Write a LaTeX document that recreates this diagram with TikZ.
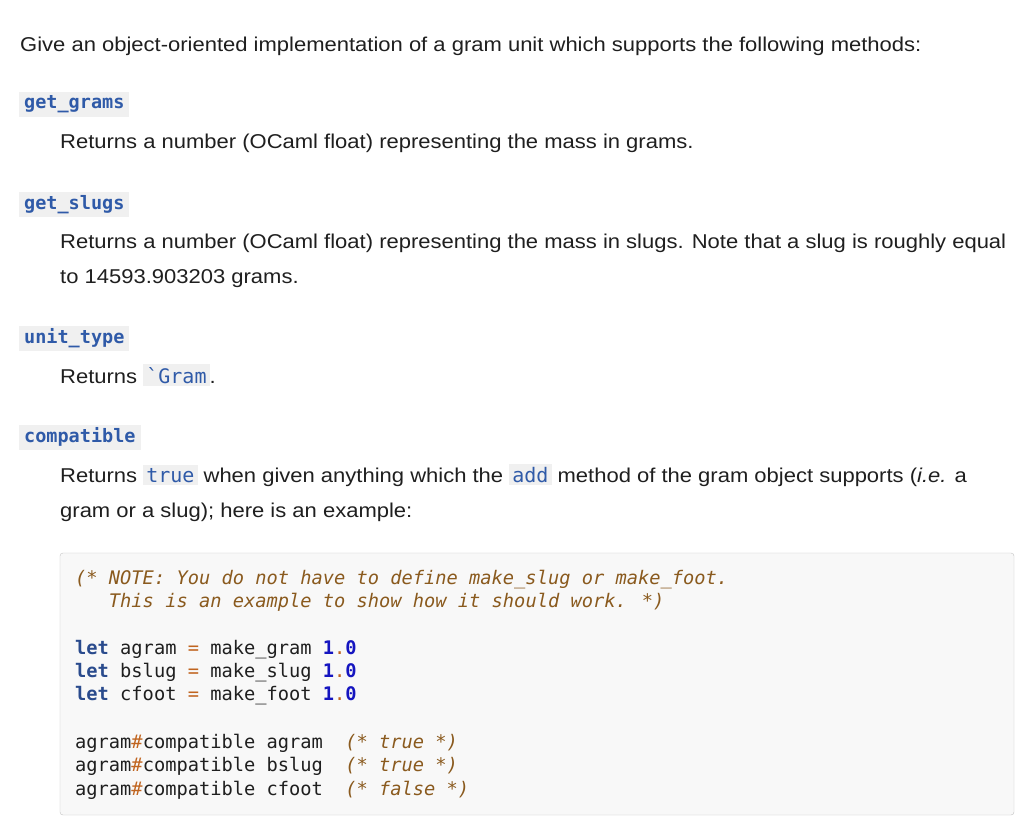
\documentclass[tikz,border=0pt]{standalone}
\usepackage{fontspec}
\setmainfont{Liberation Sans}[FakeStretch=1.1]
\newfontfamily\cmono{DejaVu Sans Mono}
\definecolor{txt}{HTML}{1F1F1F}
\definecolor{kw}{HTML}{2A4B8D}
\definecolor{icode}{HTML}{2F5AA8}
\definecolor{cbg}{HTML}{F0F0F0}
\definecolor{cmt}{HTML}{8A5A1E}
\definecolor{op}{HTML}{C0641F}
\definecolor{num}{HTML}{1515C0}
\definecolor{boxbg}{HTML}{F8F8F8}
\definecolor{boxln}{HTML}{C4C4C4}
\newcommand\ic[1]{{\setlength{\fboxsep}{3pt}\colorbox{cbg}{\cmono\color{icode}#1}}}
\newcommand\onezero{{\bfseries\color{num}1}{\color{op}.}{\bfseries\color{num}0}}
\tikzset{
  body/.style={anchor=base west,inner sep=0pt,font=\fontsize{20}{24}\selectfont,text=txt},
  head/.style={anchor=base west,inner xsep=5pt,inner ysep=0pt,fill=cbg,text=icode,
    font=\cmono\bfseries\fontsize{18.5}{22}\selectfont,text height=17pt,text depth=8pt},
  code/.style={anchor=base west,inner sep=0pt,font=\cmono\fontsize{18.7}{22}\selectfont,text=txt},
}
\begin{document}
\begin{tikzpicture}[x=1pt,y=-1pt]
\useasboundingbox[fill=white] (0,0) rectangle (1024,832);
\node[body] (t0) at (20,52) {Give an object-oriented implementation of a gram unit which supports the following methods:};
\node[head] (h1) at (19,109) {get\_grams};
\node[body] (t1) at (60,148) {Returns a number (OCaml float) representing the mass in grams.};
\node[head] (h2) at (19,209) {get\_slugs};
\node[body] (t2) at (60,248) {Returns a number (OCaml float) representing the mass in slugs. Note that a slug is roughly equal};
\node[body] (t3) at (60,283) {to 14593.903203 grams.};
\node[head] (h3) at (19,343) {unit\_type};
\node[body] (t4) at (60,383) {Returns \ic{`Gram}.};
\node[head] (h4) at (19,442) {compatible};
\node[body] (t5) at (60,482) {Returns \ic{true} when given anything which the \ic{add} method of the gram object supports (\textit{i.e.} a};
\node[body] (t6) at (60,517) {gram or a slug); here is an example:};
\draw[boxln,fill=boxbg,rounded corners=3pt] (60,553) rectangle (1014,815);
\node[code,text=cmt] (c1) at (75,584) {\itshape (* NOTE: You do not have to define make\_slug or make\_foot.};
\node[code,text=cmt] (c2) at (75,607) {\itshape \ \ \ This is an example to show how it should work. *)};
\node[code] (c3) at (75,654) {{\bfseries\color{kw}let} agram {\color{op}=} make\_gram \onezero};
\node[code] (c4) at (75,677) {{\bfseries\color{kw}let} bslug {\color{op}=} make\_slug \onezero};
\node[code] (c5) at (75,700) {{\bfseries\color{kw}let} cfoot {\color{op}=} make\_foot \onezero};
\node[code] (c6) at (75,748) {agram{\color{op}\#}compatible agram\ \ {\color{cmt}\itshape (* true *)}};
\node[code] (c7) at (75,771) {agram{\color{op}\#}compatible bslug\ \ {\color{cmt}\itshape (* true *)}};
\node[code] (c8) at (75,795) {agram{\color{op}\#}compatible cfoot\ \ {\color{cmt}\itshape (* false *)}};
\end{tikzpicture}
\end{document}
